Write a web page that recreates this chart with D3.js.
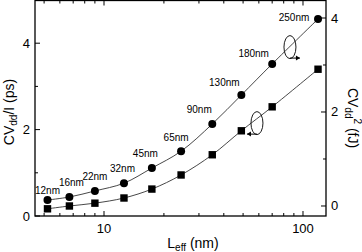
<!DOCTYPE html>
<html><head><meta charset="utf-8">
<script src="https://cdn.jsdelivr.net/npm/d3@7"></script>
<style>body{margin:0;background:#fff}svg{display:block;font-family:"Liberation Sans",Arial,sans-serif}</style>
</head><body><svg id="c" width="362" height="252"></svg>
<script>
const nodes = ["12nm","16nm","22nm","32nm","45nm","65nm","90nm","130nm","180nm","250nm"];
const leff = [5.2, 6.7, 9.0, 12.6, 17.4, 24.4, 35, 49, 70, 119];
const delay = [0.37, 0.44, 0.58, 0.76, 1.11, 1.50, 2.13, 2.80, 3.52, 4.56];
const energy = [-0.06, 0.0, 0.06, 0.17, 0.36, 0.66, 1.09, 1.60, 2.11, 2.91];
const xMajor = [10, 100];
const xMinor = [5,6,7,8,9,20,30,40,50,60,70,80,90];
const yLeftMajor = [0, 2, 4], yLeftMinor = [1, 3];
const yRightMajor = [0, 2, 4], yRightMinor = [1, 3];
// label offsets (dx, dy in px) for node labels
const labelOff = [[0,-6],[2,-11],[0,-11],[-1.5,-11],[-6.5,-11],[-5,-10],[-13,-11],[-17,-9],[-18.5,-7],[-24,2]];

const svg = d3.select("#c");
const L = 35, R = 326, T = 0.5, B = 216;
const x = d3.scaleLog().domain([4.5, 130.5]).range([L, R]);
const yL = d3.scaleLinear().domain([0, 5]).range([B, 0]);
const yR = d3.scaleLinear().domain([-0.213, 4.383]).range([B, 0]);

svg.append("rect").attr("x", L).attr("y", T).attr("width", R-L).attr("height", B-T)
  .attr("fill","none").attr("stroke","#000").attr("stroke-width",1.3);

const g = svg.append("g");
function tick(x1,y1,x2,y2){g.append("line").attr("x1",x1).attr("y1",y1).attr("x2",x2).attr("y2",y2).attr("stroke","#000").attr("stroke-width",1);}
xMajor.forEach(v=>{tick(x(v),B,x(v),B-5);tick(x(v),T,x(v),T+5);});
xMinor.forEach(v=>{tick(x(v),B,x(v),B-3);tick(x(v),T,x(v),T+3);});
yLeftMajor.forEach(v=>tick(L,yL(v),L+5,yL(v)));
yLeftMinor.forEach(v=>tick(L,yL(v),L+3,yL(v)));
yRightMajor.forEach(v=>tick(R,yR(v),R-5,yR(v)));
yRightMinor.forEach(v=>tick(R,yR(v),R-3,yR(v)));

const tf = "13px";
xMajor.forEach(v=>svg.append("text").attr("x",x(v)).attr("y",B+17).attr("text-anchor","middle").attr("font-size",tf).text(v));
yLeftMajor.forEach(v=>svg.append("text").attr("x",L-5).attr("y",yL(v)+4.5).attr("text-anchor","end").attr("font-size",tf).text(v));
yRightMajor.forEach(v=>svg.append("text").attr("x",R+5).attr("y",yR(v)+4.5).attr("text-anchor","start").attr("font-size",tf).text(v));

const line1 = d3.line().x((d,i)=>x(leff[i])).y(d=>yL(d)).curve(d3.curveCatmullRom);
const line2 = d3.line().x((d,i)=>x(leff[i])).y(d=>yR(d)).curve(d3.curveCatmullRom);
svg.append("path").attr("d",line1(delay)).attr("fill","none").attr("stroke","#333").attr("stroke-width",0.9);
svg.append("path").attr("d",line2(energy)).attr("fill","none").attr("stroke","#333").attr("stroke-width",0.9);

svg.selectAll(".c").data(delay).enter().append("circle")
  .attr("cx",(d,i)=>x(leff[i])).attr("cy",d=>yL(d)).attr("r",4).attr("fill","#000");
svg.selectAll(".s").data(energy).enter().append("rect")
  .attr("x",(d,i)=>x(leff[i])-3.7).attr("y",d=>yR(d)-3.7).attr("width",7.4).attr("height",7.4).attr("fill","#000");

svg.selectAll(".lab").data(nodes).enter().append("text")
  .attr("x",(d,i)=>x(leff[i])+labelOff[i][0]).attr("y",(d,i)=>yL(delay[i])+labelOff[i][1])
  .attr("text-anchor","middle").attr("font-size","10px").text(d=>d);

const ann = [{L:86, v:3.91, dir:1}, {L:58.7, v:2.15, dir:-1}];
ann.forEach(a=>{
  const cx = x(a.L), cy = yL(a.v);
  svg.append("ellipse").attr("cx",cx).attr("cy",cy).attr("rx",6).attr("ry",11.5)
    .attr("fill","none").attr("stroke","#000").attr("stroke-width",0.9);
  const ay = cy+11;
  const x0 = cx, x1 = cx + a.dir*10;
  svg.append("line").attr("x1",x0).attr("y1",ay).attr("x2",x1).attr("y2",ay).attr("stroke","#000").attr("stroke-width",1);
  svg.append("path").attr("d",`M${x1},${ay}L${x1-a.dir*4},${ay-2.5}L${x1-a.dir*4},${ay+2.5}Z`).attr("fill","#000");
});

const xt = svg.append("text").attr("x",193).attr("y",248).attr("text-anchor","middle").attr("font-size","14px");
xt.append("tspan").text("L");
xt.append("tspan").attr("font-size","10px").attr("dy",2.5).text("eff");
xt.append("tspan").attr("dy",-2.5).text(" (nm)");

const lt = svg.append("text").attr("transform","translate(14,112) rotate(-90)").attr("text-anchor","middle").attr("font-size","14px");
lt.append("tspan").text("CV");
lt.append("tspan").attr("font-size","10px").attr("dy",3).text("dd");
lt.append("tspan").attr("dy",-3).text("/I (ps)");

const rt = svg.append("text").attr("transform","translate(348,118) rotate(90)").attr("text-anchor","middle").attr("font-size","14px");
rt.append("tspan").text("CV");
rt.append("tspan").attr("font-size","10px").attr("dy",3).text("dd");
rt.append("tspan").attr("font-size","10px").attr("dy",-9).text("2");
rt.append("tspan").attr("dy",6).text(" (fJ)");
</script></body></html>
